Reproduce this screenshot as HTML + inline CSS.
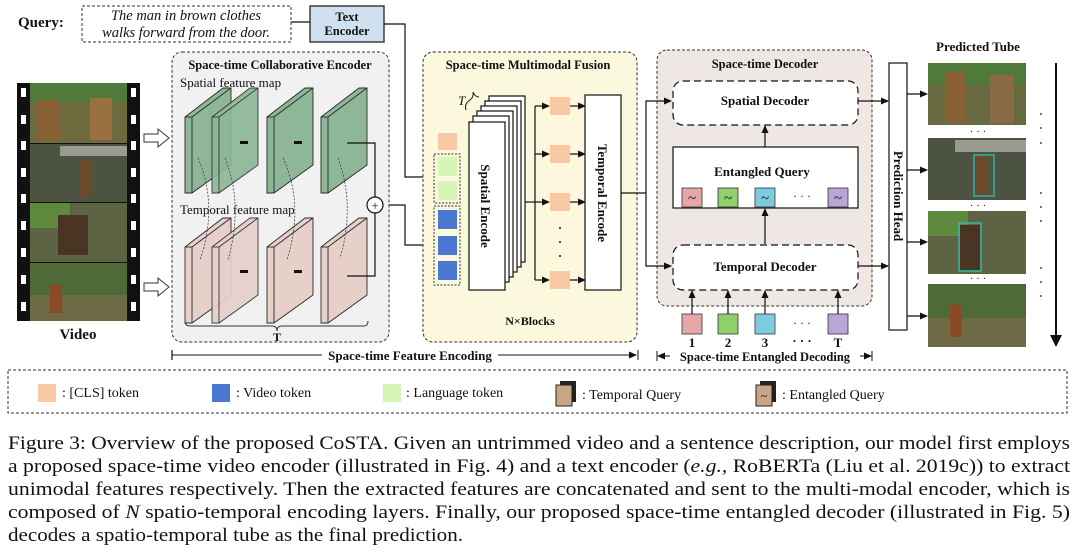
<!DOCTYPE html>
<html><head><meta charset="utf-8"><style>
html,body{margin:0;padding:0;background:#fff}
svg{display:block}
text{font-family:"Liberation Serif",serif;fill:#111}
.b{font-weight:bold}
</style></head><body>
<svg width="1080" height="555" viewBox="0 0 1080 555" xmlns="http://www.w3.org/2000/svg">
<defs>
<marker id="ar" markerWidth="8" markerHeight="8" refX="7" refY="4" orient="auto" markerUnits="userSpaceOnUse"><path d="M0,0.5 L8,4 L0,7.5 Z" fill="#111"/></marker>
<marker id="st" markerWidth="2" markerHeight="10" refX="1" refY="5" orient="auto" markerUnits="userSpaceOnUse"><path d="M1,0 V10" stroke="#111" stroke-width="1.2"/></marker>
<g id="gp"><polygon points="185,117 223,88 231,88 231,165 192,193 185,193" fill="#8db797" stroke="#2a2a2a" stroke-width="0.9"/><polyline points="192,193 192,117 231,88" fill="none" stroke="#2a2a2a" stroke-width="0.9"/><line x1="185" y1="117" x2="192" y2="117" stroke="#2a2a2a" stroke-width="0.9"/></g>
<g id="pp"><polygon points="185,117 223,88 231,88 231,165 192,193 185,193" fill="#e6d0c9" stroke="#2a2a2a" stroke-width="0.9"/><polyline points="192,193 192,117 231,88" fill="none" stroke="#2a2a2a" stroke-width="0.9"/><line x1="185" y1="117" x2="192" y2="117" stroke="#2a2a2a" stroke-width="0.9"/></g>
</defs>

<!-- Query -->
<text x="18" y="27" class="b" font-size="15">Query:</text>
<rect x="82" y="6" width="209" height="36" fill="#fff" stroke="#333" stroke-dasharray="3,2"/>
<text x="186" y="20" font-size="14.5" font-style="italic" text-anchor="middle">The man in brown clothes</text>
<text x="186" y="37" font-size="14.5" font-style="italic" text-anchor="middle">walks forward from the door.</text>
<line x1="291" y1="22" x2="310" y2="22" stroke="#111" stroke-width="1.2"/>
<rect x="310" y="6" width="74" height="36" fill="#cfe0f0" stroke="#222" stroke-width="1.3"/>
<text x="347" y="21" class="b" font-size="12.5" text-anchor="middle">Text</text>
<text x="347" y="35" class="b" font-size="12.5" text-anchor="middle">Encoder</text>
<polyline points="384,24 405,24 405,177 434,177" fill="none" stroke="#111" stroke-width="1.2" marker-end="url(#ar)"/>
<polyline points="383,205 405,205 405,245 434,245" fill="none" stroke="#111" stroke-width="1.2" marker-end="url(#ar)"/>

<!-- film strip -->
<rect x="17" y="83" width="123" height="238" fill="#111"/>
<rect x="30" y="83" width="97" height="60" fill="#6f6a3e"/>
<rect x="30" y="83" width="97" height="20" fill="#4f7a3a"/>
<rect x="38" y="100" width="22" height="40" fill="#8a6035"/><rect x="90" y="98" width="22" height="42" fill="#9a7040"/>
<rect x="30" y="144" width="97" height="58" fill="#4c5340"/>
<rect x="60" y="146" width="67" height="10" fill="#9a9a90"/><rect x="80" y="160" width="12" height="36" fill="#6a4a28"/>
<rect x="30" y="203" width="97" height="59" fill="#5c6443"/>
<rect x="30" y="203" width="40" height="25" fill="#5f8a3e"/><rect x="58" y="215" width="30" height="40" fill="#4a3424"/>
<rect x="30" y="263" width="97" height="58" fill="#4e6a36"/>
<rect x="30" y="295" width="97" height="26" fill="#6d6a45"/><rect x="50" y="285" width="12" height="28" fill="#8a4a25"/>
<g fill="#fff">
<rect x="21" y="88" width="5" height="9"/><rect x="21" y="115" width="5" height="9"/><rect x="21" y="141" width="5" height="9"/><rect x="21" y="168" width="5" height="9"/><rect x="21" y="194" width="5" height="9"/><rect x="21" y="221" width="5" height="9"/><rect x="21" y="248" width="5" height="9"/><rect x="21" y="275" width="5" height="9"/><rect x="21" y="302" width="5" height="9"/>
<rect x="131" y="88" width="5" height="9"/><rect x="131" y="115" width="5" height="9"/><rect x="131" y="141" width="5" height="9"/><rect x="131" y="168" width="5" height="9"/><rect x="131" y="194" width="5" height="9"/><rect x="131" y="221" width="5" height="9"/><rect x="131" y="248" width="5" height="9"/><rect x="131" y="275" width="5" height="9"/><rect x="131" y="302" width="5" height="9"/>
</g>
<text x="78" y="339" class="b" font-size="15" text-anchor="middle">Video</text>
<polygon points="144,134 158,134 158,129 169,138 158,147 158,142 144,142" fill="#fff" stroke="#333"/>
<polygon points="144,283 158,283 158,278 169,287 158,296 158,291 144,291" fill="#fff" stroke="#333"/>

<!-- encoder -->
<rect x="172" y="52" width="217" height="290" rx="10" fill="#f1f1f1" stroke="#333" stroke-dasharray="3,2"/>
<text x="280" y="69" class="b" font-size="12.5" text-anchor="middle">Space-time Collaborative Encoder</text>
<text x="180" y="87" font-size="13">Spatial feature map</text>
<use href="#gp"/><use href="#gp" x="27" opacity="0.92"/><use href="#gp" x="82"/><use href="#gp" x="136"/>
<use href="#pp" y="130"/><use href="#pp" x="27" y="130" opacity="0.92"/><use href="#pp" x="82" y="130"/><use href="#pp" x="136" y="130"/>
<text x="180" y="214" font-size="13">Temporal feature map</text>
<g fill="#111"><rect x="240" y="141" width="8" height="3"/><rect x="294" y="141" width="8" height="3"/><rect x="240" y="270" width="8" height="3"/><rect x="294" y="270" width="8" height="3"/></g>
<g fill="none" stroke="#444" stroke-width="0.8" stroke-dasharray="2,1.5">
<path d="M198,158 C212,190 212,225 200,260"/><path d="M225,158 C238,190 238,225 228,260"/><path d="M283,158 C298,190 298,225 287,260"/><path d="M338,158 C350,190 350,225 340,258"/>
</g>
<polyline points="347,143 375,143 375,197" fill="none" stroke="#111" stroke-width="1.2"/>
<polyline points="347,276 375,276 375,213" fill="none" stroke="#111" stroke-width="1.2"/>
<circle cx="375" cy="205" r="8" fill="#fff" stroke="#111" stroke-width="1.2"/>
<text x="375" y="210" font-size="13" text-anchor="middle">+</text>
<path d="M185,321 Q185,326 190,326 L272,326 Q277,326 277,331 Q277,326 282,326 L364,326 Q368,326 368,321" fill="none" stroke="#333"/>
<text x="277" y="341" class="b" font-size="12" text-anchor="middle">T</text>

<!-- bottom encoding arrow -->
<line x1="172" y1="355" x2="322" y2="355" stroke="#111" marker-start="url(#st)"/>
<text x="410" y="360" class="b" font-size="13" text-anchor="middle">Space-time Feature Encoding</text>
<line x1="498" y1="355" x2="636" y2="355" stroke="#111" marker-end="url(#ar)"/>
<line x1="638" y1="350" x2="638" y2="360" stroke="#111"/>

<!-- fusion -->
<rect x="423" y="52" width="214" height="290" rx="10" fill="#fbf8dd" stroke="#333" stroke-dasharray="3,2"/>
<text x="528" y="69" class="b" font-size="12.5" text-anchor="middle">Space-time Multimodal Fusion</text>
<rect x="438" y="133" width="19" height="17" fill="#f8c9a4"/>
<rect x="434" y="154" width="26" height="49" fill="none" stroke="#333" stroke-dasharray="2,1.5"/>
<rect x="438" y="157" width="19" height="19" fill="#d7f5b5"/><rect x="438" y="181" width="19" height="19" fill="#d7f5b5"/>
<rect x="434" y="206" width="26" height="79" fill="none" stroke="#333" stroke-dasharray="2,1.5"/>
<rect x="438" y="210" width="19" height="19" fill="#4a77cf"/><rect x="438" y="236" width="19" height="19" fill="#4a77cf"/><rect x="438" y="261" width="19" height="19" fill="#4a77cf"/>
<g fill="#fff" stroke="#111" stroke-width="1.2">
<rect x="489" y="96" width="36" height="166"/><rect x="485" y="101" width="36" height="166"/><rect x="481" y="106" width="36" height="166"/><rect x="477" y="111" width="36" height="166"/><rect x="473" y="116" width="36" height="166"/>
<rect x="469" y="122" width="36" height="168"/>
</g>
<text transform="translate(481,206) rotate(90)" class="b" font-size="13" text-anchor="middle">Spatial Encode</text>
<text x="458" y="105" font-size="13" font-style="italic">T</text>
<path d="M466,110 q-2,-6 4,-10 q4,-3 3,-8 q2,5 6,5" fill="none" stroke="#111"/>
<line x1="525" y1="202" x2="535" y2="202" stroke="#111" stroke-width="1.2"/>
<line x1="535" y1="106" x2="535" y2="280" stroke="#111" stroke-width="1.2"/>
<g stroke="#111" stroke-width="1.2" marker-end="url(#ar)">
<line x1="535" y1="106" x2="549" y2="106"/><line x1="535" y1="154" x2="549" y2="154"/><line x1="535" y1="202" x2="549" y2="202"/><line x1="535" y1="280" x2="549" y2="280"/>
<line x1="570" y1="106" x2="585" y2="106"/><line x1="570" y1="154" x2="585" y2="154"/><line x1="570" y1="202" x2="585" y2="202"/><line x1="570" y1="280" x2="585" y2="280"/>
</g>
<g fill="#f8c9a4"><rect x="550" y="97" width="20" height="18"/><rect x="550" y="145" width="20" height="18"/><rect x="550" y="193" width="20" height="18"/><rect x="550" y="271" width="20" height="18"/></g>
<g fill="#111"><circle cx="560" cy="228" r="1"/><circle cx="560" cy="242" r="1"/><circle cx="560" cy="256" r="1"/></g>
<rect x="585" y="95" width="36" height="195" fill="#fff" stroke="#111" stroke-width="1.2"/>
<text transform="translate(598,193) rotate(90)" class="b" font-size="13" text-anchor="middle">Temporal Encode</text>
<text x="530" y="325" class="b" font-size="12" text-anchor="middle">N×Blocks</text>
<line x1="621" y1="193" x2="646" y2="193" stroke="#111" stroke-width="1.2"/>

<!-- decoder -->
<rect x="657" y="50" width="215" height="256" rx="10" fill="#efe7e4" stroke="#333" stroke-dasharray="3,2"/>
<polyline points="646,193 646,101 671,101" fill="none" stroke="#111" stroke-width="1.2" marker-end="url(#ar)"/>
<polyline points="646,193 646,266 671,266" fill="none" stroke="#111" stroke-width="1.2" marker-end="url(#ar)"/>
<text x="765" y="68" class="b" font-size="12.5" text-anchor="middle">Space-time Decoder</text>
<rect x="673" y="81" width="185" height="44" rx="10" fill="#fff" stroke="#111" stroke-width="1.2" stroke-dasharray="7,4"/>
<text x="765" y="105" class="b" font-size="13" text-anchor="middle">Spatial Decoder</text>
<rect x="673" y="147" width="185" height="61" fill="#fff" stroke="#111" stroke-width="1.2"/>
<text x="762" y="176" class="b" font-size="13" text-anchor="middle">Entangled Query</text>
<g stroke="#333" stroke-width="0.8">
<rect x="682" y="188" width="20" height="19" fill="#e6a8a7"/><rect x="718" y="188" width="20" height="19" fill="#8fd06b"/><rect x="755" y="188" width="20" height="19" fill="#7ecbe0"/><rect x="828" y="188" width="20" height="19" fill="#b9a6d6"/>
</g>
<g font-size="15" text-anchor="middle"><text x="692" y="203">~</text><text x="728" y="203">~</text><text x="765" y="203">~</text><text x="838" y="203">~</text></g>
<text x="802" y="200" font-size="12" text-anchor="middle">· · ·</text>
<line x1="765" y1="147" x2="765" y2="126" stroke="#111" stroke-width="1.2" marker-end="url(#ar)"/>
<line x1="765" y1="244" x2="765" y2="209" stroke="#111" stroke-width="1.2" marker-end="url(#ar)"/>
<rect x="673" y="245" width="185" height="45" rx="10" fill="#fff" stroke="#111" stroke-width="1.2" stroke-dasharray="7,4"/>
<text x="765" y="271" class="b" font-size="13" text-anchor="middle">Temporal Decoder</text>
<g stroke="#333" stroke-width="0.8">
<rect x="682" y="314" width="20" height="20" fill="#e6a8a7"/><rect x="718" y="314" width="20" height="20" fill="#8fd06b"/><rect x="755" y="314" width="20" height="20" fill="#7ecbe0"/><rect x="828" y="314" width="20" height="20" fill="#b9a6d6"/>
</g>
<g stroke="#111" stroke-width="1.2" marker-end="url(#ar)">
<line x1="692" y1="314" x2="692" y2="291"/><line x1="728" y1="314" x2="728" y2="291"/><line x1="765" y1="314" x2="765" y2="291"/><line x1="838" y1="314" x2="838" y2="291"/>
</g>
<text x="802" y="327" font-size="12" text-anchor="middle">· · ·</text>
<g class="b" font-size="13" text-anchor="middle"><text x="692" y="347" class="b">1</text><text x="728" y="347" class="b">2</text><text x="765" y="347" class="b">3</text><text x="802" y="345">· · ·</text><text x="838" y="347" class="b">T</text></g>
<line x1="657" y1="351" x2="657" y2="361" stroke="#111"/><line x1="872" y1="351" x2="872" y2="361" stroke="#111"/>
<text x="765" y="361" class="b" font-size="12.5" text-anchor="middle">Space-time Entangled Decoding</text>
<line x1="670" y1="356" x2="658" y2="356" stroke="#111" marker-end="url(#ar)"/>
<line x1="860" y1="356" x2="871" y2="356" stroke="#111" marker-end="url(#ar)"/>

<!-- prediction head -->
<line x1="858" y1="101" x2="888" y2="101" stroke="#111" stroke-width="1.2" marker-end="url(#ar)"/>
<line x1="858" y1="266" x2="888" y2="266" stroke="#111" stroke-width="1.2" marker-end="url(#ar)"/>
<rect x="889" y="63" width="18" height="267" fill="#fff" stroke="#111" stroke-width="1.2"/>
<text transform="translate(894,196) rotate(90)" class="b" font-size="13" text-anchor="middle">Prediction Head</text>
<g stroke="#111" stroke-width="1.2" marker-end="url(#ar)">
<line x1="907" y1="94" x2="927" y2="94"/><line x1="907" y1="170" x2="927" y2="170"/><line x1="907" y1="242" x2="927" y2="242"/><line x1="907" y1="316" x2="927" y2="316"/>
</g>
<text x="978" y="51" class="b" font-size="13" text-anchor="middle">Predicted Tube</text>
<rect x="928" y="63" width="98" height="62" fill="#6a6a42"/><rect x="928" y="63" width="98" height="22" fill="#4f7a3a"/><rect x="945" y="72" width="20" height="50" fill="#8a6035"/><rect x="990" y="75" width="24" height="48" fill="#8a6a45"/>
<rect x="928" y="138" width="98" height="62" fill="#4c5340"/><rect x="955" y="140" width="71" height="12" fill="#9a9a90"/><rect x="976" y="155" width="12" height="40" fill="#6a4a28"/>
<rect x="974" y="155" width="20" height="41" fill="none" stroke="#2cc7c0" stroke-width="1.2"/>
<rect x="928" y="211" width="98" height="63" fill="#5c6443"/><rect x="928" y="211" width="40" height="25" fill="#5f8a3e"/><rect x="960" y="225" width="20" height="45" fill="#4a3424"/>
<rect x="959" y="223" width="22" height="48" fill="none" stroke="#2cc7c0" stroke-width="1.2"/>
<rect x="928" y="284" width="98" height="63" fill="#4e6a36"/><rect x="928" y="318" width="98" height="29" fill="#6d6a45"/><rect x="950" y="305" width="12" height="32" fill="#8a4a25"/>
<g font-size="11" text-anchor="middle"><text x="978" y="135">· · ·</text><text x="978" y="209">· · ·</text><text x="978" y="282">· · ·</text></g>
<g fill="#111"><circle cx="1041" cy="114" r="0.9"/><circle cx="1041" cy="128" r="0.9"/><circle cx="1041" cy="143" r="0.9"/><circle cx="1041" cy="193" r="0.9"/><circle cx="1041" cy="207" r="0.9"/><circle cx="1041" cy="221" r="0.9"/><circle cx="1041" cy="268" r="0.9"/><circle cx="1041" cy="282" r="0.9"/><circle cx="1041" cy="296" r="0.9"/></g>
<line x1="1056" y1="63" x2="1056" y2="336" stroke="#111" stroke-width="2"/>
<polygon points="1050,335 1062,335 1056,347" fill="#111"/>

<!-- legend -->
<rect x="8" y="370" width="1059" height="43" fill="#fff" stroke="#333" stroke-dasharray="3,2"/>
<rect x="38" y="384" width="18" height="18" fill="#f8c9a4"/><text x="62" y="397" font-size="14">: [CLS] token</text>
<rect x="212" y="384" width="18" height="18" fill="#4a77cf"/><text x="236" y="397" font-size="14">: Video token</text>
<rect x="383" y="384" width="18" height="18" fill="#d7f5b5"/><text x="406" y="397" font-size="14">: Language token</text>
<rect x="560" y="381" width="16" height="21" fill="#222"/><rect x="556" y="385" width="16" height="21" fill="#c8a583" stroke="#222"/>
<text x="582" y="399" font-size="14">: Temporal Query</text>
<rect x="760" y="381" width="16" height="21" fill="#222"/><rect x="756" y="385" width="16" height="21" fill="#c8a583" stroke="#222"/>
<text x="764" y="400" font-size="12" text-anchor="middle">~</text>
<text x="782" y="399" font-size="14">: Entangled Query</text>

<!-- caption -->
<g font-size="19">
<text x="8" y="449" textLength="1062" lengthAdjust="spacingAndGlyphs">Figure 3: Overview of the proposed CoSTA. Given an untrimmed video and a sentence description, our model first employs</text>
<text x="8" y="472" textLength="1062" lengthAdjust="spacingAndGlyphs">a proposed space-time video encoder (illustrated in Fig. 4) and a text encoder (<tspan font-style="italic">e.g.</tspan>, RoBERTa (Liu et al. 2019c)) to extract</text>
<text x="8" y="495" textLength="1062" lengthAdjust="spacingAndGlyphs">unimodal features respectively. Then the extracted features are concatenated and sent to the multi-modal encoder, which is</text>
<text x="8" y="518" textLength="1062" lengthAdjust="spacingAndGlyphs">composed of <tspan font-style="italic">N</tspan> spatio-temporal encoding layers. Finally, our proposed space-time entangled decoder (illustrated in Fig. 5)</text>
<text x="8" y="541" textLength="455" lengthAdjust="spacingAndGlyphs">decodes a spatio-temporal tube as the final prediction.</text>
</g>
</svg>
</body></html>
